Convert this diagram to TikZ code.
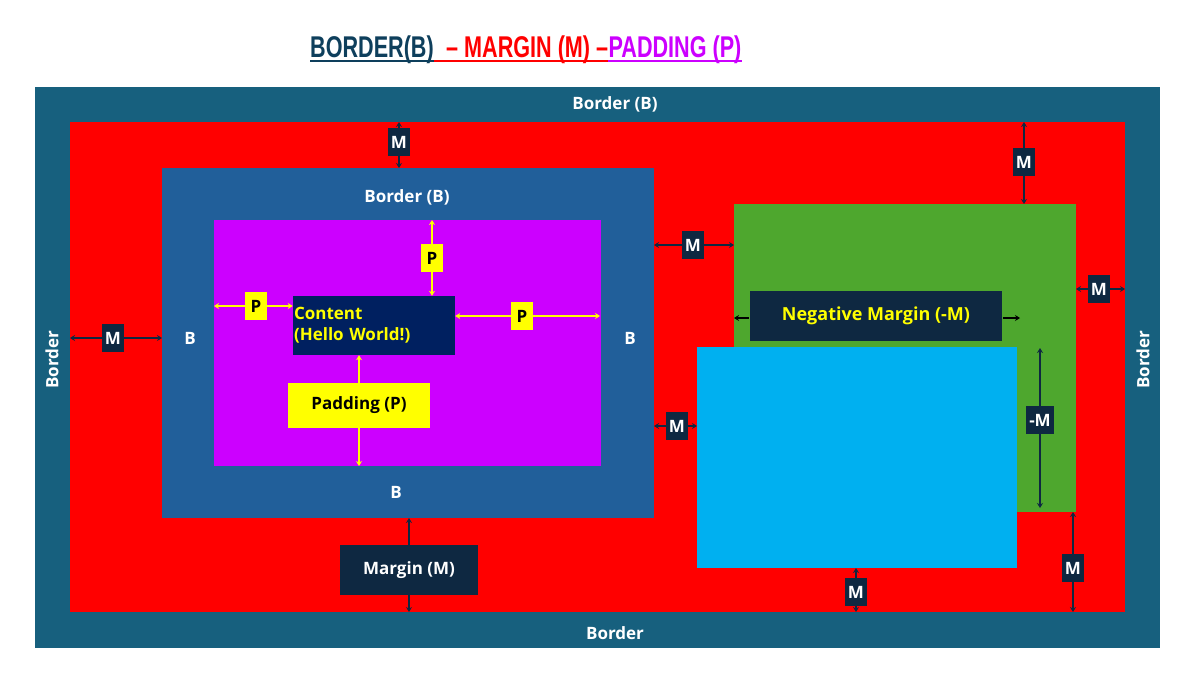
\documentclass[tikz,border=0pt]{standalone}
\usepackage{fontspec}
\setmainfont{Open Sans}
\newfontfamily\titlefont[FakeStretch=0.72]{Liberation Sans}
\usetikzlibrary{arrows.meta}
\definecolor{outerB}{HTML}{17607E}
\definecolor{redM}{HTML}{FF0000}
\definecolor{blueB}{HTML}{215F9A}
\definecolor{purp}{HTML}{CC00FF}
\definecolor{navy}{HTML}{002060}
\definecolor{dark}{HTML}{0E2841}
\definecolor{grn}{HTML}{4EA72E}
\definecolor{cyanb}{HTML}{00B0F0}
\definecolor{ttl}{HTML}{0E3F5C}
\definecolor{yel}{HTML}{FFFF00}
\tikzset{
  lbl/.style={font=\bfseries\fontsize{17}{20}\selectfont, text=white, inner sep=0},
  mbox/.style={fill=dark, text=white, font=\bfseries\fontsize{17}{20}\selectfont, inner sep=3pt, minimum width=22pt, minimum height=28pt},
  pbox/.style={fill=yel, text=black, font=\bfseries\fontsize{17}{20}\selectfont, inner sep=3pt, minimum width=22pt, minimum height=28pt},
  marr/.style={draw=dark, line width=1.8pt, {Stealth[length=5pt,width=6pt]}-{Stealth[length=5pt,width=6pt]}},
  parr/.style={draw=yel, line width=1.8pt, {Stealth[length=5pt,width=6pt]}-{Stealth[length=5pt,width=6pt]}},
  ttlpart/.style={font=\titlefont\bfseries\fontsize{30}{32}\selectfont, inner sep=0, anchor=base west},
}
\begin{document}
\begin{tikzpicture}[x=1pt,y=-1pt]
\useasboundingbox[fill=white] (0,0) rectangle (1200,691);
% title
\node[ttlpart, text=ttl] (t1) at (310,57) {BORDER(B)};
\node[ttlpart, text=redM] (t2) at (t1.base east) {\ \ – MARGIN (M) – };
\node[ttlpart, text=purp] (t3) at (t2.base east) {PADDING (P)};
\draw[ttl, line width=1.6pt] ([yshift=-4pt]t1.base west) -- ([yshift=-4pt]t1.base east);
\draw[redM, line width=1.6pt] ([yshift=-4pt]t2.base west) -- ([yshift=-4pt]t2.base east);
\draw[purp, line width=1.6pt] ([yshift=-4pt]t3.base west) -- ([yshift=-4pt]t3.base east);
% boxes
\fill[outerB] (35,87) rectangle (1160,648);
\fill[redM] (70,122) rectangle (1125,612);
\fill[blueB] (162,168) rectangle (654,518);
\fill[purp] (214,220) rectangle (601,466);
\fill[grn] (734,204) rectangle (1076,512);
\fill[cyanb] (697,347) rectangle (1017,568);
% coordinates
\coordinate (rT1) at (399,122); \coordinate (bT1) at (399,168);
\coordinate (rT2) at (1024,122); \coordinate (gT) at (1024,204);
\coordinate (bR) at (654,245); \coordinate (gL) at (734,245);
\coordinate (gR) at (1076,289); \coordinate (rR) at (1125,289);
\coordinate (rL) at (70,338); \coordinate (bL) at (162,338);
\coordinate (bR2) at (654,426); \coordinate (cL) at (697,426);
\coordinate (mT) at (1040,348); \coordinate (mB) at (1040,508);
\coordinate (cB) at (856,568); \coordinate (rB1) at (856,612);
\coordinate (gB) at (1073,512); \coordinate (rB2) at (1073,612);
\coordinate (bB) at (409,518); \coordinate (rB3) at (409,612);
\coordinate (nL) at (734,318); \coordinate (nR) at (1020,318);
\coordinate (pT) at (432,220); \coordinate (pL) at (214,306); \coordinate (pR) at (600,316);
\coordinate (pB) at (359,466);
% content
\node[fill=navy, text=yel, font=\bfseries\fontsize{17}{21}\selectfont, align=left, inner sep=1pt, minimum width=162pt, minimum height=59pt, text width=160pt] (content) at (374,325.5) {Content\\(Hello World!)};
% margin arrows
\draw[marr] (rT1) -- (bT1);
\draw[marr] (rT2) -- (gT);
\draw[marr] (bR) -- (gL);
\draw[marr] (gR) -- (rR);
\draw[marr] (rL) -- (bL);
\draw[marr] (bR2) -- (cL);
\draw[marr] (mT) -- (mB);
\draw[marr] (cB) -- (rB1);
\draw[marr] (gB) -- (rB2);
\draw[marr] (bB) -- (rB3);
\draw[draw=black, line width=1.8pt, {Stealth[length=5pt,width=6pt]}-{Stealth[length=5pt,width=6pt]}] (nL) -- (nR);
\node[mbox] (m1) at (399,142) {M};
\node[mbox] (m2) at (1024,162) {M};
\node[mbox] (m3) at (693,245) {M};
\node[mbox] (m4) at (1099,289) {M};
\node[mbox] (m5) at (113,338) {M};
\node[mbox] (m6) at (677,426) {M};
\node[mbox] (m7) at (1040,420) {-M};
\node[mbox] (m8) at (856,592) {M};
\node[mbox] (m9) at (1073,568) {M};
\node[mbox, minimum width=138pt, minimum height=50pt] (mm) at (409,570) {Margin (M)};
\node[fill=dark, text=yel, font=\bfseries\fontsize{18}{20}\selectfont, minimum width=253pt, minimum height=51pt, inner sep=0, draw=grn, line width=0.5pt] (neg) at (876,315.5) {Negative Margin (-M)};
% padding arrows
\draw[parr] (pT) -- (content.north -| pT);
\draw[parr] (pL) -- (content.west |- pL);
\draw[parr] (content.east |- pR) -- (pR);
\draw[parr] (content.south -| pB) -- (pB);
\node[pbox] (p1) at (432,258) {P};
\node[pbox] (p2) at (256,306) {P};
\node[pbox] (p3) at (522,316) {P};
\node[pbox, minimum width=142pt, minimum height=45pt] (pp) at (359,405) {Padding (P)};
% labels
\node[lbl] (lb1) at (615,104) {Border (B)};
\node[lbl] (lb2) at (615,633) {Border};
\node[lbl, rotate=90] (lb3) at (52,360) {Border};
\node[lbl, rotate=90] (lb4) at (1143,360) {Border};
\node[lbl] (lb5) at (407,197) {Border (B)};
\node[lbl] (lb6) at (190,338) {B};
\node[lbl] (lb7) at (630,338) {B};
\node[lbl] (lb8) at (396,492) {B};
\end{tikzpicture}
\end{document}
